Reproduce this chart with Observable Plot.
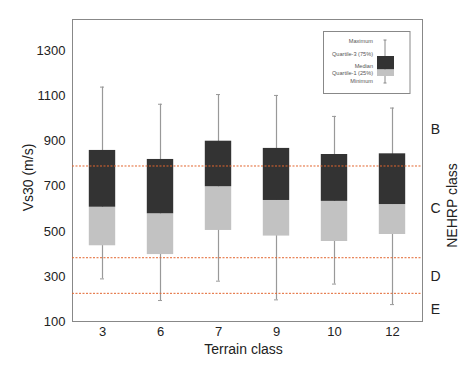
<!DOCTYPE html>
<html>
<head>
<meta charset="utf-8">
<script src="https://cdn.jsdelivr.net/npm/d3@7"></script>
<script src="https://cdn.jsdelivr.net/npm/@observablehq/plot@0.6"></script>
<style>
  body { margin: 0; background: #fff; }
  #chart { position: relative; width: 474px; height: 374px; }
</style>
</head>
<body>
<div id="chart"></div>
<script>
const terrainClasses = ["3", "6", "7", "9", "10", "12"];
const minimum = [289, 193, 279, 196, 266, 175];
const quartile1 = [436, 397, 504, 479, 455, 486];
const median = [607, 578, 698, 637, 633, 619];
const quartile3 = [859, 819, 900, 868, 841, 844];
const maximum = [1140, 1064, 1107, 1103, 1010, 1047];
const boundaries = [790, 383, 225];
const nehrpLabels = ["B", "C", "D", "E"];
const nehrpLabelY = [950, 600, 300, 155];
const yTicks = [100, 300, 500, 700, 900, 1100, 1300];

const rows = terrainClasses.map((c, i) => ({
  cls: c, min: minimum[i], q1: quartile1[i], med: median[i], q3: quartile3[i], max: maximum[i]
}));
const nehrp = nehrpLabels.map((l, i) => ({label: l, y: nehrpLabelY[i]}));

const font = "Liberation Sans, Arial, sans-serif";
const plot = Plot.plot({
  width: 474,
  height: 374,
  marginLeft: 72,
  marginRight: 52,
  marginTop: 19,
  marginBottom: 53,
  style: {fontFamily: font, fontSize: "13px", color: "#222", background: "#fff"},
  x: {type: "band", domain: terrainClasses, padding: 0, label: null, tickSize: 0, tickPadding: 5},
  y: {domain: [100, 1440], ticks: yTicks, tickFormat: "d", tickSize: 0, tickPadding: 7, label: null},
  marks: [
    Plot.frame({stroke: "#888", strokeWidth: 1}),
    Plot.ruleX(rows, {x: "cls", y1: "min", y2: "max", stroke: "#999", strokeWidth: 1.2}),
    Plot.tickY(rows, {x: "cls", y: "max", stroke: "#999", insetLeft: 27, insetRight: 27}),
    Plot.tickY(rows, {x: "cls", y: "min", stroke: "#999", insetLeft: 27, insetRight: 27}),
    Plot.barY(rows, {x: "cls", y1: "q1", y2: "med", fill: "#c2c2c2", insetLeft: 15.8, insetRight: 15.8}),
    Plot.barY(rows, {x: "cls", y1: "med", y2: "q3", fill: "#333333", insetLeft: 15.8, insetRight: 15.8}),
    Plot.ruleY(boundaries, {stroke: "#e2662f", strokeWidth: 1, strokeDasharray: "2,1.5"}),
    Plot.text(nehrp, {x: () => "12", y: "y", text: "label", dx: 43, fontSize: 14, fill: "#222", textAnchor: "middle"}),
    Plot.text(["NEHRP class"], {frameAnchor: "right", text: d => d, rotate: -90, dx: 30, dy: 35, textAnchor: "middle", lineAnchor: "middle", fontSize: 14, fill: "#222"}),
    Plot.text(["Vs30 (m/s)"], {frameAnchor: "left", text: d => d, rotate: -90, dx: -44, dy: 7, textAnchor: "middle", lineAnchor: "middle", fontSize: 14, fill: "#222"}),
    Plot.text(["Terrain class"], {frameAnchor: "bottom", text: d => d, dy: 28, dx: -4, textAnchor: "middle", lineAnchor: "middle", fontSize: 14, fill: "#222"})
  ]
});
document.getElementById("chart").appendChild(plot);

// Inset legend explaining the box symbol
const svg = d3.select(plot);
const g = svg.append("g");
g.append("rect").attr("x", 323.5).attr("y", 31.5).attr("width", 86.5).attr("height", 62)
  .attr("fill", "#fff").attr("stroke", "#888").attr("stroke-width", 1);
const cx = 385;
g.append("line").attr("x1", cx).attr("x2", cx).attr("y1", 40).attr("y2", 83).attr("stroke", "#888");
g.append("line").attr("x1", cx - 1.5).attr("x2", cx + 1.5).attr("y1", 40).attr("y2", 40).attr("stroke", "#888");
g.append("line").attr("x1", cx - 1.5).attr("x2", cx + 1.5).attr("y1", 83).attr("y2", 83).attr("stroke", "#888");
g.append("rect").attr("x", 377).attr("y", 56).attr("width", 17).attr("height", 13.5).attr("fill", "#333");
g.append("rect").attr("x", 377).attr("y", 69.5).attr("width", 17).attr("height", 6.5).attr("fill", "#c2c2c2");
const legendLabels = [["Maximum", 43], ["Quartile-3 (75%)", 56], ["Median", 68], ["Quartile-1 (25%)", 74.5], ["Minimum", 82.5]];
legendLabels.forEach(([t, y]) => {
  g.append("text").attr("x", 373).attr("y", y).attr("text-anchor", "end")
    .attr("font-family", font).attr("font-size", 5.6).attr("fill", "#555").text(t);
});
</script>
</body>
</html>
